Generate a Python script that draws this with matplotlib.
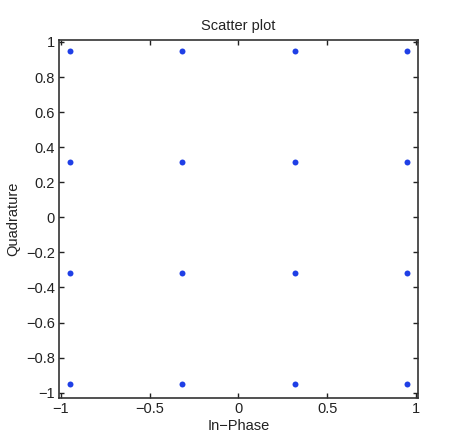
import matplotlib
matplotlib.use("Agg")
import matplotlib.pyplot as plt

in_phase = [-0.9487, -0.3162, 0.3162, 0.9487] * 4
quadrature = [0.9487] * 4 + [0.3162] * 4 + [-0.3162] * 4 + [-0.9487] * 4
xticks = [-1, -0.5, 0, 0.5, 1]
yticks = [-1, -0.8, -0.6, -0.4, -0.2, 0, 0.2, 0.4, 0.6, 0.8, 1]

plt.rcParams['font.family'] = ['Liberation Sans', 'DejaVu Sans']
plt.rcParams['axes.unicode_minus'] = True

fig = plt.figure(figsize=(4.74, 4.44), dpi=100)
ax = fig.add_axes([59/474, 1-398/444, (418-59)/474, (398-40)/444])
ax.plot(in_phase, quadrature, linestyle='none', marker='o', ms=4.3,
        color='#1f3fe6', markeredgewidth=0)
ax.set_xlim(-1.01, 1.011)
ax.set_ylim(-1.03, 1.011)
ax.set_xticks(xticks)
ax.set_xticklabels(['\u22121', '\u22120.5', '0', '0.5', '1'])
ax.set_yticks(yticks)
ax.set_yticklabels([('\u2212' + f'{abs(v):g}') if v < 0 else f'{v:g}' for v in yticks])
ax.tick_params(direction='in', top=True, right=True, length=3.5, width=1,
               color='#222222', labelsize=10.5, labelcolor='#222222', pad=3)
for s in ax.spines.values():
    s.set_color('#333333')
    s.set_linewidth(1.2)
ax.set_title('Scatter plot', fontsize=10.5, color='#222222', pad=7)
ax.set_xlabel('In\u2212Phase', fontsize=10.5, color='#222222', labelpad=2)
ax.set_ylabel('Quadrature', fontsize=10.5, color='#222222', labelpad=4)
fig.savefig('out.png', dpi=100)
